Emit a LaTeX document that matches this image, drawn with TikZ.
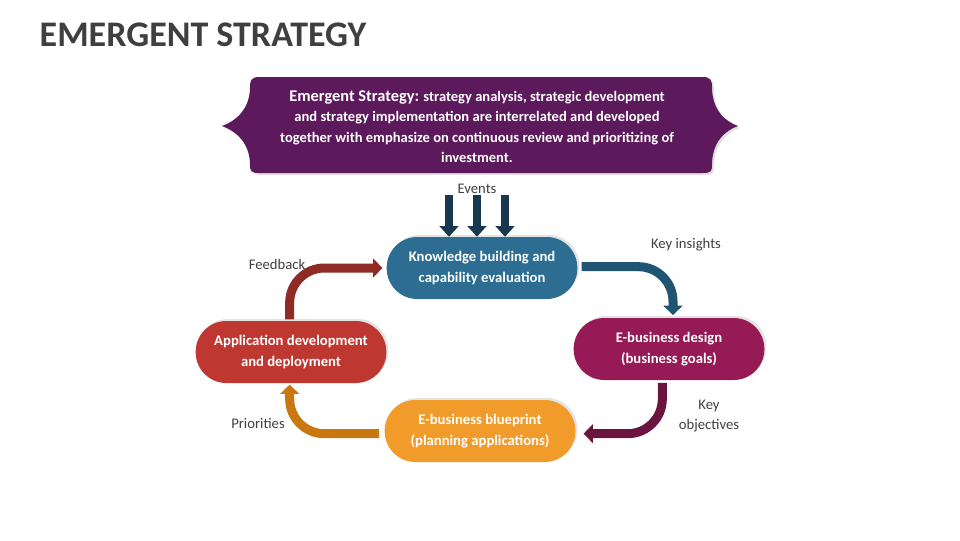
\documentclass[tikz,border=0pt]{standalone}
\usepackage{fontspec}
\setmainfont{Carlito}
\usetikzlibrary{arrows.meta,shadows}
\definecolor{titlegray}{HTML}{3F3F3F}
\definecolor{labgray}{HTML}{404040}
\definecolor{bannerpurple}{HTML}{5C1A5C}
\definecolor{kblue}{HTML}{2C6D91}
\definecolor{dmag}{HTML}{951A55}
\definecolor{borange}{HTML}{F19B2A}
\definecolor{ared}{HTML}{BE3831}
\definecolor{ablue}{HTML}{1F5572}
\definecolor{amag}{HTML}{6B1440}
\definecolor{aorange}{HTML}{C9770F}
\definecolor{aredd}{HTML}{902A25}
\definecolor{evnavy}{HTML}{17384F}
\tikzset{
  pill/.style={rectangle, rounded corners=23pt, minimum width=143pt, minimum height=46.5pt,
    text=white, align=center, font=\fontsize{11}{15.7}\selectfont\bfseries,
    drop shadow={shadow xshift=1.5pt, shadow yshift=1.5pt, opacity=0.22}},
  flow/.style={line width=6.75pt, rounded corners=26pt, -{Triangle[width=14pt,length=7pt]}},
  evarrow/.style={line width=6.5pt, evnavy, -{Triangle[width=14pt,length=8pt]}},
  lab/.style={text=labgray, font=\fontsize{11}{15}\selectfont, align=center}
}
\begin{document}
\begin{tikzpicture}[x=0.75pt,y=-0.75pt]
\useasboundingbox (0,0) rectangle (960,540);
\fill[white] (0,0) rectangle (960,540);
% title
\node[anchor=west, text=titlegray, font=\fontsize{27}{32}\selectfont\bfseries] (title) at (35,35) {EMERGENT STRATEGY};
% banner shadow
\fill[black, opacity=0.12] (261,79) -- (705,79)
  .. controls (713,79) and (714,83) .. (714,89)
  .. controls (714,111) and (726,123) .. (740,128)
  .. controls (726,133) and (714,145) .. (714,167)
  .. controls (714,173) and (713,175) .. (705,175)
  -- (261,175) .. controls (253,175) and (252,173) .. (252,167)
  .. controls (252,145) and (238,133) .. (224,128)
  .. controls (238,123) and (252,111) .. (252,89)
  .. controls (252,83) and (253,79) .. (261,79) -- cycle;
% banner
\fill[bannerpurple] (259,77) -- (703,77)
  .. controls (711,77) and (712,81) .. (712,87)
  .. controls (712,109) and (724,121) .. (738,126)
  .. controls (724,131) and (712,143) .. (712,165)
  .. controls (712,171) and (711,173) .. (703,173)
  -- (259,173) .. controls (251,173) and (250,171) .. (250,165)
  .. controls (250,143) and (236,131) .. (222,126)
  .. controls (236,121) and (250,109) .. (250,87)
  .. controls (250,81) and (251,77) .. (259,77) -- cycle;
\node[text=white, align=center, font=\fontsize{10.9}{15.4}\selectfont\bfseries] (bantext) at (477,126.5)
  {{\fontsize{12.3}{15.4}\selectfont Emergent Strategy:} strategy analysis, strategic development\\
   and strategy implementation are interrelated and developed\\
   together with emphasize on continuous review and prioritizing of\\
   investment.};
% nodes
\node[pill, fill=kblue] (kn) at (482,268) {Knowledge building and\\capability evaluation};
\node[pill, fill=dmag] (ds) at (669,349) {E-business design\\(business goals)};
\node[pill, fill=borange] (bp) at (480,431) {E-business blueprint\\(planning applications)};
\node[pill, fill=ared] (ap) at (291,352) {Application development\\and deployment};
% events
\node[lab] (ev) at (477,189) {Events};
\coordinate (e1) at (449,195); \coordinate (e2) at (477,195); \coordinate (e3) at (505,195);
\draw[evarrow] (e1) -- (e1 |- kn.north);
\draw[evarrow] (e2) -- (e2 |- kn.north);
\draw[evarrow] (e3) -- (e3 |- kn.north);
% flow arrows
\draw[flow, ablue, shorten <=3pt, shorten >=2pt] ([yshift=1pt]kn.east) -| ([xshift=3pt]ds.north);
\draw[flow, amag, shorten <=2pt, shorten >=6pt] ([xshift=-5pt]ds.south) |- ([yshift=-2pt]bp.east);
\draw[flow, aorange, shorten <=4pt, shorten >=1pt] ([yshift=-2pt]bp.west) -| ([xshift=-1pt]ap.south);
\draw[flow, aredd, shorten <=1pt, shorten >=3pt] ([xshift=-1pt]ap.north) |- (kn.west);
% labels
\node[lab] (l1) at (686,245) {Key insights};
\node[lab] (l2) at (277,264) {Feedback};
\node[lab] (l3) at (258,423) {Priorities};
\node[lab] (l4) at (709,416) {Key\\objectives};
\end{tikzpicture}
\end{document}
